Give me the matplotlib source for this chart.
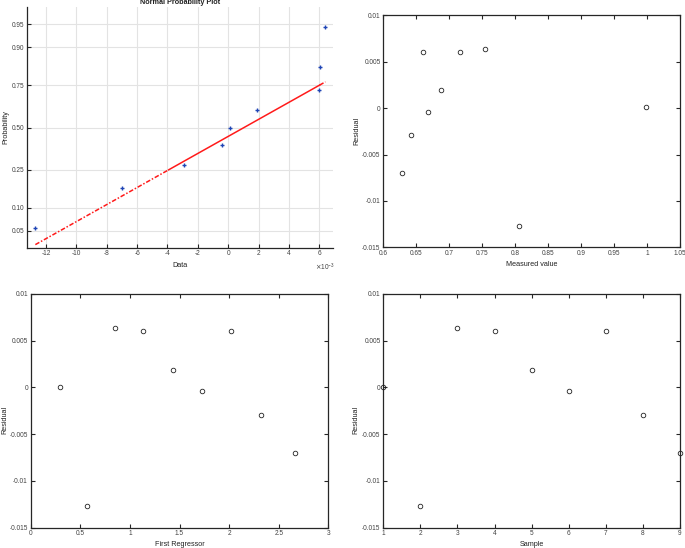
import matplotlib
matplotlib.use("Agg")
import matplotlib.pyplot as plt
import matplotlib.ticker as mticker
import numpy as np
from statistics import NormalDist

plt.rcParams['font.family'] = ['Liberation Sans', 'DejaVu Sans']
plt.rcParams['axes.unicode_minus'] = False

# ---- data ----
samples = [1, 2, 3, 4, 5, 6, 7, 8, 9]
residuals = [0.0001, -0.0127, 0.0064, 0.00605, 0.0019, -0.0004, 0.0060, -0.0029, -0.0070]
measured = [0.9984, 0.8053, 0.7542, 0.7163, 0.6870, 0.6672, 0.6607, 0.6415, 0.6283]
first_regressor = [0.296, 0.571, 0.853, 1.135, 1.431, 1.726, 2.022, 2.324, 2.664]
prob_ticks = [0.05, 0.10, 0.25, 0.50, 0.75, 0.90, 0.95]
prob_tick_labels = ['0.05', '0.10', '0.25', '0.50', '0.75', '0.90', '0.95']

W, H = 685, 548
fig = plt.figure(figsize=(W / 100, H / 100), dpi=100)

TXT = '#404040'
SP = '#262626'
TFS = 4.7
LFS = 5.2


def px_axes(l, t, r, b):
    return fig.add_axes([l / W, 1 - b / H, (r - l) / W, (b - t) / H])


def style_box(ax):
    for s in ax.spines.values():
        s.set_color(SP)
        s.set_linewidth(0.9)
    ax.tick_params(direction='in', length=2.6, width=0.8, color=SP,
                   top=True, right=True, labelsize=TFS, labelcolor=TXT, pad=2)


fmt = mticker.FuncFormatter(lambda v, p: ('%g' % round(v, 6)) if abs(v) > 1e-12 else '0')
fmt_milli = mticker.FuncFormatter(lambda v, p: ('%g' % round(v * 1e3, 6)) if abs(v) > 1e-12 else '0')

# ---- Normal probability plot ----
nd = NormalDist()
n = len(residuals)
srt = np.sort(residuals)
z = [nd.inv_cdf((i + 0.5) / n) for i in range(n)]

ax1 = px_axes(27.3, 7.3, 333, 247.7)
ax1.set_xlim(-0.01323, 0.0069)
ax1.set_ylim(nd.inv_cdf(0.25 / n), nd.inv_cdf(1 - 0.25 / n))
ax1.set_xticks(np.arange(-12, 7, 2) * 1e-3)
ax1.set_yticks([nd.inv_cdf(p) for p in prob_ticks])
ax1.set_yticklabels(prob_tick_labels)
ax1.xaxis.set_major_formatter(fmt_milli)
ax1.grid(True, color='#e3e3e3', linewidth=0.8)
ax1.set_axisbelow(True)
for s in ['top', 'right']:
    ax1.spines[s].set_visible(False)
for s in ['left', 'bottom']:
    ax1.spines[s].set_color(SP)
    ax1.spines[s].set_linewidth(0.9)
ax1.tick_params(direction='in', length=2.6, width=0.8, color=SP,
                labelsize=TFS, labelcolor=TXT, pad=2)

# reference line through quartiles (MATLAB prctile convention)
def mprct(x, p):
    x = np.sort(x)
    pos = len(x) * p / 100 + 0.5
    lo = int(np.floor(pos))
    fr = pos - lo
    return x[lo - 1] + fr * (x[lo] - x[lo - 1])

q1, q3 = mprct(residuals, 25), mprct(residuals, 75)
z1, z3 = nd.inv_cdf(0.25), nd.inv_cdf(0.75)
slope = (z3 - z1) / (q3 - q1)
line = lambda x: z1 + slope * (x - q1)
xmin, xmax = srt[0], srt[-1]
RED = '#ff1a1a'
ax1.plot([q1, q3], [line(q1), line(q3)], color=RED, lw=1.1, zorder=3)
ax1.plot([xmin, q1], [line(xmin), line(q1)], color=RED, lw=1.1, ls=(0, (3, 1.2, 1, 1.2)), zorder=3)
ax1.plot([q3, xmax], [line(q3), line(xmax)], color=RED, lw=1.1, ls=(0, (3, 1.2, 1, 1.2)), zorder=3)
ax1.plot(srt, z, ls='none', marker='+', color='#1f45b5', ms=3.4, mew=1.0, zorder=4)

fig.text(180 / W, 1 - 3 / H, 'Normal Probability Plot', ha='center', va='center',
         fontsize=LFS, fontweight='bold', color='#222222')
fig.text(180 / W, 1 - 265.5 / H, 'Data', ha='center', va='center', fontsize=LFS, color='#222222')
fig.text(6 / W, 1 - 127 / H, 'Probability', ha='center', va='center', rotation=90,
         fontsize=LFS, color='#222222')
fig.text(325 / W, 1 - 267 / H, r'$\times\mathdefault{10^{-3}}$', ha='center', va='center',
         fontsize=TFS, color=TXT)

# ---- Residual vs measured value ----
ax2 = px_axes(383.3, 15.3, 680, 247.3)
ax2.plot(measured, residuals, ls='none', marker='o', mfc='none', mec='#222222',
         ms=3.3, mew=0.6, clip_on=False)
ax2.set_xlim(0.6, 1.05)
ax2.set_ylim(-0.015, 0.01)
ax2.set_xticks(np.arange(0.6, 1.051, 0.05))
ax2.set_yticks(np.arange(-0.015, 0.0101, 0.005))
ax2.xaxis.set_major_formatter(fmt)
ax2.yaxis.set_major_formatter(fmt)
style_box(ax2)
fig.text(532 / W, 1 - 264 / H, 'Measured value', ha='center', va='center', fontsize=LFS, color='#222222')
fig.text(357 / W, 1 - 131 / H, 'Residual', ha='center', va='center', rotation=90,
         fontsize=LFS, color='#222222')

# ---- Residual vs first regressor ----
ax3 = px_axes(30.7, 294, 328.3, 527.7)
ax3.plot(first_regressor, residuals, ls='none', marker='o', mfc='none', mec='#222222',
         ms=3.3, mew=0.6, clip_on=False)
ax3.set_xlim(0, 3)
ax3.set_ylim(-0.015, 0.01)
ax3.set_xticks(np.arange(0, 3.01, 0.5))
ax3.set_yticks(np.arange(-0.015, 0.0101, 0.005))
ax3.xaxis.set_major_formatter(fmt)
ax3.yaxis.set_major_formatter(fmt)
style_box(ax3)
fig.text(180 / W, 1 - 544 / H, 'First Regressor', ha='center', va='center', fontsize=LFS, color='#222222')
fig.text(5 / W, 1 - 420 / H, 'Residual', ha='center', va='center', rotation=90,
         fontsize=LFS, color='#222222')

# ---- Residual vs sample ----
ax4 = px_axes(383.3, 294, 680, 527.7)
ax4.plot(samples, residuals, ls='none', marker='o', mfc='none', mec='#222222',
         ms=3.3, mew=0.6, clip_on=False)
ax4.set_xlim(1, 9)
ax4.set_ylim(-0.015, 0.01)
ax4.set_xticks(np.arange(1, 10, 1))
ax4.set_yticks(np.arange(-0.015, 0.0101, 0.005))
ax4.xaxis.set_major_formatter(fmt)
ax4.yaxis.set_major_formatter(fmt)
style_box(ax4)
fig.text(532 / W, 1 - 544 / H, 'Sample', ha='center', va='center', fontsize=LFS, color='#222222')
fig.text(356 / W, 1 - 420 / H, 'Residual', ha='center', va='center', rotation=90,
         fontsize=LFS, color='#222222')

fig.savefig('out.png', dpi=100)
